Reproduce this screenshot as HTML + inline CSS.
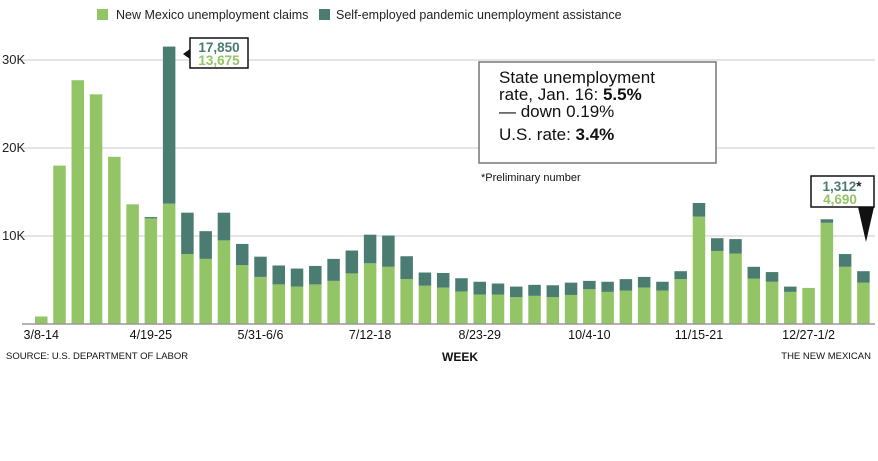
<!DOCTYPE html>
<html><head><meta charset="utf-8"><style>
body{margin:0;background:#fff;width:878px;height:461px;overflow:hidden;font-family:"Liberation Sans",sans-serif}
svg{display:block}
</style></head><body>
<svg id="chart" width="878" height="461">
<g>
<rect x="97" y="9" width="11" height="11" fill="#93c465"/>
<text x="116" y="19" font-size="12.5" fill="#222">New Mexico unemployment claims</text>
<rect x="319" y="9" width="11" height="11" fill="#4a7c72"/>
<text x="336" y="19" font-size="12.5" fill="#222">Self-employed pandemic unemployment assistance</text>
</g>
<g id="grid"></g>
<g id="bars"></g>
<g id="xlabels"></g>
<line x1="22" x2="875" y1="324" y2="324" stroke="#999" stroke-width="1.5"/>
<g>
<polygon points="183,54 190,49 190,59" fill="#111"/>
<rect x="190" y="38" width="58" height="30" fill="#fff" stroke="#111" stroke-width="1.5"/>
<text x="219" y="52" font-size="13.5" font-weight="bold" fill="#4a7c72" text-anchor="middle">17,850</text>
<text x="219" y="65" font-size="13.5" font-weight="bold" fill="#93c465" text-anchor="middle">13,675</text>
</g>
<g>
<rect x="811" y="176" width="63" height="31" fill="#fff" stroke="#111" stroke-width="1.5"/>
<polygon points="858,207 874,207 866,242" fill="#111"/>
<text x="842" y="191" font-size="13.5" font-weight="bold" fill="#4a7c72" text-anchor="middle">1,312<tspan fill="#222">*</tspan></text>
<text x="840" y="204" font-size="13.5" font-weight="bold" fill="#93c465" text-anchor="middle">4,690</text>
</g>
<g>
<rect x="479" y="62" width="237" height="101" fill="#fff" stroke="#777" stroke-width="1.5"/>
<text x="499" y="83" font-size="17" fill="#111">State unemployment</text>
<text x="499" y="100" font-size="17" fill="#111">rate, Jan. 16: <tspan font-weight="bold">5.5%</tspan></text>
<text x="499" y="117" font-size="17" fill="#111">— down 0.19%</text>
<text x="499" y="140" font-size="17" fill="#111">U.S. rate: <tspan font-weight="bold">3.4%</tspan></text>
</g>
<text x="481" y="181" font-size="11" fill="#111">*Preliminary number</text>
<text x="6" y="359" font-size="9.5" fill="#111">SOURCE: U.S. DEPARTMENT OF LABOR</text>
<text x="460" y="361" font-size="12" font-weight="bold" fill="#111" text-anchor="middle">WEEK</text>
<text x="871" y="359" font-size="9.5" fill="#111" text-anchor="end">THE NEW MEXICAN</text>
</svg>
<script>
const claims=[850,18000,27700,26100,19000,13600,12000,13675,7950,7400,9500,6700,5350,4500,4250,4500,4900,5750,6900,6500,5100,4350,4150,3700,3350,3350,3050,3200,3050,3300,3950,3650,3800,4150,3800,5100,12200,8300,8000,5150,4800,3650,4100,11500,6500,4690];
const pua=[0,0,0,0,0,0,150,17850,4700,3150,3150,2400,2300,2150,2050,2100,2500,2600,3250,3550,2600,1500,1650,1500,1450,1250,1200,1250,1350,1400,950,1150,1300,1200,1000,900,1550,1450,1650,1350,1100,600,0,400,1450,1312];
const tickValues=[10000,20000,30000];
const tickLabels=["10K","20K","30K"];
const xLabelIdx=[0,6,12,18,24,30,36,42];
const xLabels=["3/8-14","4/19-25","5/31-6/6","7/12-18","8/23-29","10/4-10","11/15-21","12/27-1/2"];
const NS="http://www.w3.org/2000/svg";
const y0=324,pxPer=88/10000,x0=35,step=18.27,bw=12.5;
const yS=v=>y0-v*pxPer, xS=i=>x0+i*step;
function mk(t,a,p){const e=document.createElementNS(NS,t);for(const k in a)e.setAttribute(k,a[k]);p.appendChild(e);return e;}
const grid=document.getElementById('grid');
tickValues.forEach((v,i)=>{
 const l=mk('line',{x1:22,x2:875,y1:yS(v),y2:yS(v),stroke:'#dcdcdc','stroke-width':1.5},grid);
 
 
 const t=mk('text',{x:2,y:yS(v)+4,'font-size':13,fill:'#222'},grid);
 t.textContent=tickLabels[i];
 
 
});
const bars=document.getElementById('bars');
claims.forEach((c,i)=>{
 const g=mk('rect',{x:xS(i),y:yS(c),width:bw,height:c*pxPer,fill:'#93c465'},bars);
 
 
 if(pua[i]>0){
  const p=mk('rect',{x:xS(i),y:yS(c+pua[i]),width:bw,height:pua[i]*pxPer,fill:'#4a7c72'},bars);
  
  
 }
});
const xl=document.getElementById('xlabels');
xLabelIdx.forEach((idx,i)=>{
 const t=mk('text',{x:xS(idx)+bw/2,y:339,'font-size':12.5,fill:'#111','text-anchor':'middle'},xl);
 t.textContent=xLabels[i];
 
 
});
</script>
</body></html>
